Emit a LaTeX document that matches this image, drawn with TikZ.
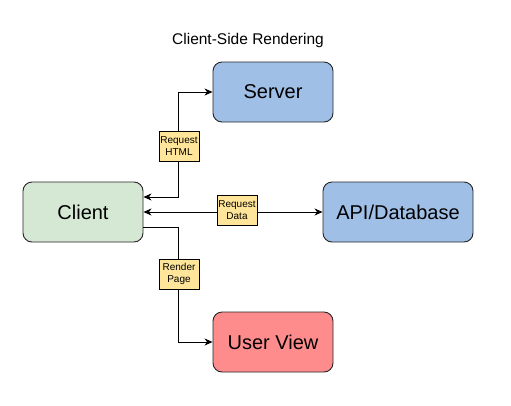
\documentclass[tikz,border=0pt]{standalone}
\usepackage{fontspec}
\setmainfont{Liberation Sans}
\usetikzlibrary{arrows.meta}
\definecolor{srvblue}{HTML}{9FBFE6}
\definecolor{cligreen}{HTML}{D5E8D4}
\definecolor{uvred}{HTML}{FF8C8C}
\definecolor{lblyel}{HTML}{FFE599}
\tikzset{
  box/.style={draw=black!85, line width=0.9pt, rounded corners=9pt, minimum height=60pt, inner sep=0pt, font=\fontsize{20}{22}\selectfont},
  lbl/.style={draw=black, line width=0.8pt, fill=lblyel, minimum width=40pt, minimum height=30pt, inner sep=0pt, align=center, font=\fontsize{10}{12}\selectfont},
  conn/.style={line width=0.9pt, draw=black},
  >={Stealth[length=8pt,width=7pt,inset=2.5pt]}
}
\begin{document}
\begin{tikzpicture}[x=1pt,y=-1pt]
\useasboundingbox (0,0) rectangle (511,405);
\node[font=\fontsize{15.5}{18}\selectfont] (title) at (248,40) {Client-Side Rendering};
\node[box, fill=srvblue, minimum width=120pt] (server) at (273,92) {Server};
\node[box, fill=cligreen, minimum width=120pt] (client) at (83,212) {Client};
\node[box, fill=srvblue, minimum width=150pt] (api) at (398,212) {API/Database};
\node[box, fill=uvred, minimum width=120pt] (user) at (273,342) {User View};
\draw[conn, <->] ([yshift=15pt]client.east) -- ++(35,0) |- (server.west);
\draw[conn, <->] (client.east) -- (api.west);
\draw[conn, ->] ([yshift=-15pt]client.east) -- ++(35,0) |- (user.west);
\node[lbl] (lhtml) at (179,146) {Request\\HTML};
\node[lbl] (ldata) at (237,210) {Request\\Data};
\node[lbl] (lpage) at (179,274) {Render\\Page};
\end{tikzpicture}
\end{document}
